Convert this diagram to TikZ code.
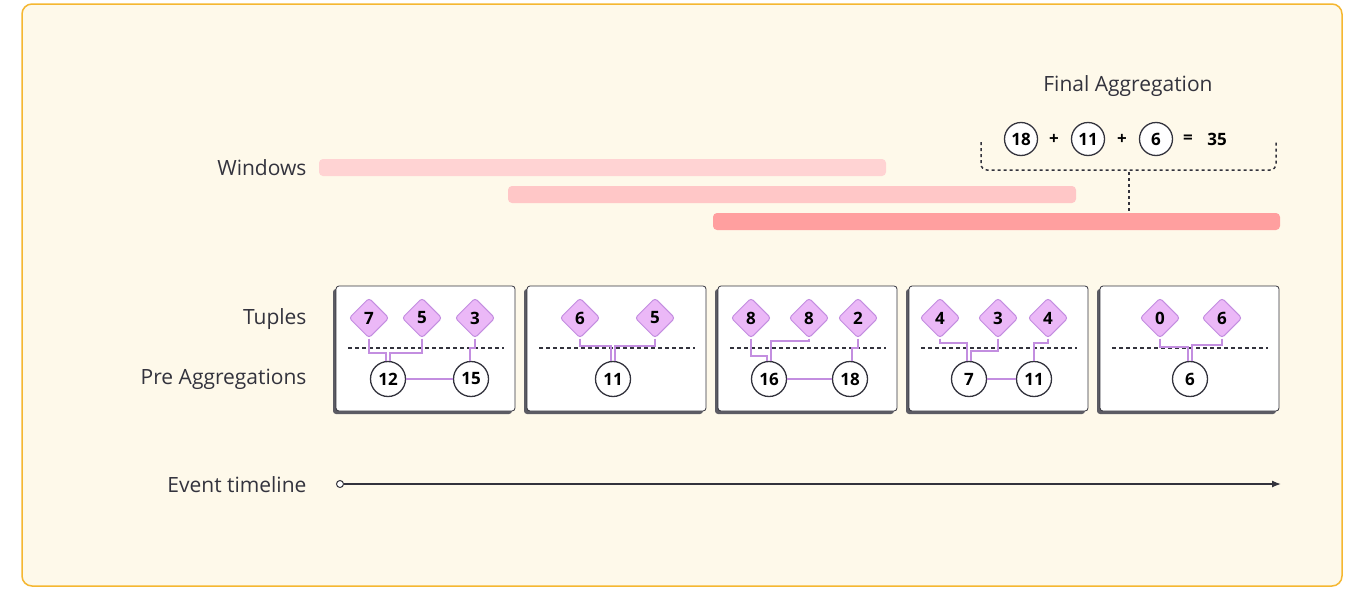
\documentclass[tikz,border=0pt]{standalone}
\usepackage{fontspec}
\setmainfont{Open Sans}
\usetikzlibrary{shapes.geometric,arrows.meta}
\definecolor{bg}{HTML}{FEF9EA}
\definecolor{bord}{HTML}{F5B731}
\definecolor{dfill}{HTML}{EBB8F7}
\definecolor{dline}{HTML}{C38EE0}
\definecolor{ink}{HTML}{33333D}
\begin{document}
\begin{tikzpicture}[x=1pt,y=-1pt,
 lab/.style={anchor=east,font=\fontsize{21}{24}\selectfont,text=ink},
 num/.style={font=\bfseries\fontsize{17}{19}\selectfont},
 dia/.style={diamond,fill=dfill,draw=dline,line width=1pt,minimum size=40pt,inner sep=0pt,rounded corners=3pt,num},
 agg/.style={circle,fill=white,draw=ink,line width=1.3pt,minimum size=35pt,inner sep=0pt,num},
 wire/.style={draw=dline,line width=1.2pt},
 card/.style={fill=white,draw=ink,line width=0.8pt,rounded corners=3pt},
 dsh/.style={dashed,line width=1.5pt,draw=ink}]
\useasboundingbox (0,0) rectangle (1358,597);
\fill[white] (0,0) rectangle (1358,597);
\draw[fill=bg,draw=bord,line width=1.5pt,rounded corners=10pt] (22,4) rectangle (1342,586);
% labels
\node[lab] (lw) at (310,168) {Windows};
\node[lab] (lt) at (310,319) {Tuples};
\node[lab] (lp) at (310,379) {Pre Aggregations};
\node[lab] (le) at (310,485) {Event timeline};
% windows
\fill[fill={rgb,255:red,255;green,211;blue,211},rounded corners=4pt] (319,159) rectangle (886,176);
\fill[fill={rgb,255:red,255;green,199;blue,199},rounded corners=4pt] (508,186) rectangle (1076,203);
\fill[fill={rgb,255:red,255;green,159;blue,159},rounded corners=4pt] (713,213) rectangle (1280,230);
% final aggregation
\node[font=\fontsize{21}{24}\selectfont,text=ink] (fa) at (1128,86) {Final Aggregation};
\node[agg,minimum size=33pt] (f1) at (1021,139) {18};
\node[num] (p1) at (1054,139) {+};
\node[agg,minimum size=33pt] (f2) at (1088,139) {11};
\node[num] (p2) at (1122,139) {+};
\node[agg,minimum size=33pt] (f3) at (1156,139) {6};
\node[num] (eq) at (1188,139) {=};
\node[num] (r) at (1217,139) {35};
\draw[dsh,rounded corners=6pt] (981,142) -- (981,170) -- (1276,170) -- (1276,142);
\coordinate (bt) at (1129,172);
\coordinate (bb) at (1129,211);
\draw[dsh] (bt) -- (bb);
% cards
\foreach \x in {336,527,718,909,1100}{
 \fill[ink!80,rounded corners=3pt] (\x-3,289) rectangle (\x+176,414);
 \draw[card] (\x,286) rectangle (\x+179,411);
 \draw[dsh,line width=1.1pt,dash pattern=on 4pt off 3pt] (\x+12,348) -- (\x+168,348);
}
% box1
\node[agg] (c1a) at (388,379) {12}; \node[agg] (c1b) at (471,379) {15};
\draw[wire] (c1a) -- (c1b);
\node[dia] (d11) at (369,318) {7}; \node[dia] (d12) at (422,318) {5}; \node[dia] (d13) at (475,318) {3};
\draw[wire] (d11.south) |- (386,353) -- (c1a.north -| 386,0);
\draw[wire] (d12.south) |- (390,353) -- (c1a.north -| 390,0);
\draw[wire] (d13.south) |- (470,348) -- (c1b.north -| 470,0);
% box2
\node[agg] (c2a) at (613,379) {11};
\node[dia] (d21) at (580,318) {6}; \node[dia] (d22) at (655,318) {5};
\draw[wire] (d21.south) |- (611,346) -- (c2a.north -| 611,0);
\draw[wire] (d22.south) |- (615,346) -- (c2a.north -| 615,0);
% box3
\node[agg] (c3a) at (769,379) {16}; \node[agg] (c3b) at (850,379) {18};
\draw[wire] (c3a) -- (c3b);
\node[dia] (d31) at (751,318) {8}; \node[dia] (d32) at (809,318) {8}; \node[dia] (d33) at (858,318) {2};
\draw[wire] (d31.south) |- (767,356) -- (c3a.north -| 767,0);
\draw[wire] (d32.south) |- (771,341) -- (c3a.north -| 771,0);
\draw[wire] (d33.south) |- (852,348) -- (c3b.north -| 852,0);
% box4
\node[agg] (c4a) at (969,379) {7}; \node[agg] (c4b) at (1034,379) {11};
\draw[wire] (c4a) -- (c4b);
\node[dia] (d41) at (940,318) {4}; \node[dia] (d42) at (998,318) {3}; \node[dia] (d43) at (1048,318) {4};
\draw[wire] (d41.south) |- (967,343) -- (c4a.north -| 967,0);
\draw[wire] (d42.south) |- (971,351) -- (c4a.north -| 971,0);
\draw[wire] (d43.south) |- (1034,343) -- (c4b.north);
% box5
\node[agg] (c5a) at (1190,379) {6};
\node[dia] (d51) at (1160,318) {0}; \node[dia] (d52) at (1222,318) {6};
\draw[wire] (d51.south) |- (1188,347) -- (c5a.north -| 1188,0);
\draw[wire] (d52.south) |- (1192,345) -- (c5a.north -| 1192,0);
% timeline
\node[circle,draw=ink,fill=white,line width=1pt,minimum size=7pt,inner sep=0pt] (t0) at (340,484) {};
\coordinate (t1) at (1281,484);
\draw[ink,line width=1.3pt,-{Latex[length=9pt,width=7pt]}] (t0) -- (t1);
\end{tikzpicture}
\end{document}
